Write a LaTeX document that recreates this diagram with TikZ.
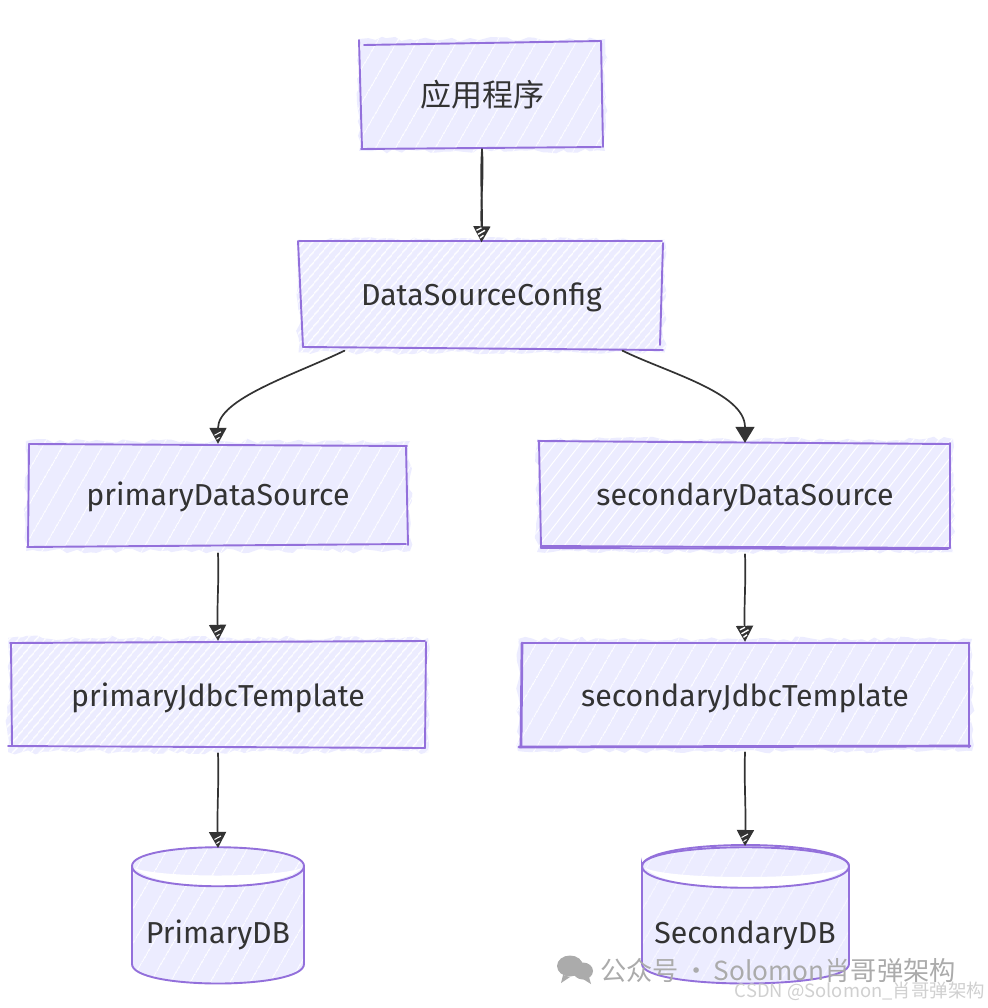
\documentclass[tikz,border=0pt]{standalone}
\usepackage{fontspec}
\setmainfont{Fira Sans}
\newfontfamily\cjk{Noto Sans CJK SC}
\usetikzlibrary{arrows.meta,patterns.meta,decorations.pathmorphing,calc}
\definecolor{edgep}{HTML}{9370DB}
\definecolor{fillp}{HTML}{ECECFF}
\definecolor{ink}{HTML}{333333}
\definecolor{wmark}{HTML}{ABABAB}
\definecolor{wmarkb}{HTML}{D0D0D0}
\tikzset{
  x=1pt,y=-1pt,
  sketch/.style={edgep,line width=1.9pt,line cap=round},
  sketchb/.style={edgep,line width=2.7pt,line cap=round},
  boxbase/.style={inner sep=0pt,font=\fontsize{30.3}{32}\selectfont,text=ink,anchor=center,text depth=0pt},
  fuzz/.style={fill=fillp,decorate,decoration={random steps,segment length=7pt,amplitude=2.4pt}},
  sparse/.style={boxbase,fuzz,postaction={pattern={Lines[angle=60,distance=17pt,line width=.7pt]},pattern color=white}},
  dense/.style={boxbase,fuzz,postaction={pattern={Lines[angle=50,distance=6.5pt,line width=1.3pt]},pattern color=white}},
  mid/.style={boxbase,fuzz,postaction={pattern={Lines[angle=52,distance=10pt,line width=1pt]},pattern color=white}},
  wire/.style={ink,line width=1.7pt,line cap=round},
  tipa/.style={-{Triangle[width=17pt,length=16pt,fill=ink]}},
  tipb/.style={-{Triangle[width=19pt,length=16pt,fill=ink]}},
  dbtext/.style={inner sep=0pt,font=\fontsize{30.3}{32}\selectfont,text=ink,text depth=0pt},
  wm/.style={inner sep=0pt,text=wmark,font=\fontsize{26.2}{28}\selectfont},
  wm2/.style={inner sep=0pt,text=wmarkb,font=\fontsize{18.4}{20}\selectfont},
  dbfill/.style={fill=fillp,postaction={pattern={Lines[angle=60,distance=17pt,line width=.7pt]},pattern color=white}},
  stripes/.pic={\draw[white,line width=1pt] (-1.5,-4.5)--(1.5,-6.5) (-3.5,-8.5)--(3,-12);},
  stripesb/.pic={\draw[white,line width=1.4pt] (-1.5,-4.5)--(2,-7) (-3.5,-8)--(3.5,-12) (-5,-12)--(0,-14.5);},
}
\begin{document}
\begin{tikzpicture}
\useasboundingbox (0,0) rectangle (987,1008);
\fill[white] (0,0) rectangle (987,1008);
% boxes
\node[sparse,minimum width=246pt,minimum height=112pt] (app) at (482,95) {};
\node[dense,minimum width=366pt,minimum height=113pt] (dsc) at (481.5,296) {};
\node[sparse,minimum width=384pt,minimum height=110pt] (pds) at (218,496) {};
\node[mid,minimum width=416pt,minimum height=113pt] (sds) at (745,495.5) {};
\node[dense,minimum width=420pt,minimum height=114pt] (pjt) at (218,695) {};
\node[sparse,minimum width=454pt,minimum height=112pt] (sjt) at (745,695) {};
\node[boxbase] (appt) at (482,93) {\fontsize{31}{32}\selectfont\cjk 应用程序};
\node[boxbase,anchor=base] (dsct) at (481.5,305) {DataSourceConfig};
\node[boxbase,anchor=base] (pdst) at (218,505) {primaryDataSource};
\node[boxbase,anchor=base] (sdst) at (745,505) {secondaryDataSource};
\node[boxbase,anchor=base] (pjtt) at (218,706) {primaryJdbcTemplate};
\node[boxbase,anchor=base] (sjtt) at (745,706) {secondaryJdbcTemplate};
% outlines
\draw[sketch] (359,40)--(362,149);
\draw[sketch] (364,45)--(601,41);
\draw[sketch] (601,41)--(603,147);
\draw[sketch] (361,149)--(601,147);
\draw[sketch] (299,241)--(662,241);
\draw[sketch] (298,241)--(303,347);
\draw[sketch] (663,243)--(660,345);
\draw[sketch] (303,347)--(663,350);
\draw[sketch] (29,444)--(407,446);
\draw[sketch] (29,444)--(28,547);
\draw[sketch] (406,446)--(408,545);
\draw[sketch] (27,547)--(406,544);
\draw[sketch] (538,441)--(950,444);
\draw[sketch] (539,441)--(541,548);
\draw[sketch] (950,443)--(950,548);
\draw[sketch] (541,546)--(950,548);
\draw[sketch] (541,548)--(948,549);
\draw[sketch] (10,643)--(425,641);
\draw[sketch] (11,643)--(12,746);
\draw[sketch] (426,642)--(425,748);
\draw[sketch] (8,746)--(425,748);
\draw[sketchb] (523,643)--(969,643);
\draw[sketchb] (522,643)--(521,747);
\draw[sketchb] (969,643)--(969,747);
\draw[sketchb] (519,747)--(970,746);
% primary DB
\path[dbfill]
  (132,866) .. controls (132,841) and (304,841) .. (304,866) -- (304,964)
  .. controls (304,990) and (132,990) .. (132,964) -- cycle;
\fill[white] (134,868) .. controls (160,892) and (276,892) .. (302,868) .. controls (276,878) and (160,878) .. (134,868) -- cycle;
\draw[sketch] (132,866) .. controls (132,841) and (304,841) .. (304,866) .. controls (304,893) and (132,893) .. (132,866) -- (132,964)
  .. controls (132,990) and (304,990) .. (304,964) -- (304,866);
\node[dbtext,anchor=base] (pdb) at (218,943) {PrimaryDB};
\coordinate (pdbtop) at (218,848);
% secondary DB
\path[dbfill]
  (642,866) .. controls (642,840) and (849,840) .. (849,866) -- (849,964)
  .. controls (849,990) and (642,990) .. (642,964) -- cycle;
\fill[white] (645,868) .. controls (670,895) and (820,895) .. (846,868) .. controls (820,880) and (670,880) .. (645,868) -- cycle;
\draw[sketch] (642,866) .. controls (642,841) and (849,841) .. (849,866) .. controls (849,895) and (642,895) .. (642,866) -- (642,964)
  .. controls (642,990) and (849,990) .. (849,964) -- (849,866);
\draw[sketch] (642,866) .. controls (645,838) and (846,838) .. (849,866);
\node[dbtext,anchor=base] (sdb) at (745,943) {SecondaryDB};
\coordinate (sdbtop) at (745,846);
\coordinate (dsctop) at ([yshift=-3pt]dsc.north);
\coordinate (pdstop) at ([yshift=-3pt]pds.north);
\coordinate (sdstop) at ([yshift=-4pt]sds.north);
\coordinate (pjttop) at ([yshift=-3pt]pjt.north);
\coordinate (sjttop) at ([yshift=-3pt]sjt.north);
% connectors
\draw[wire,tipa] ([yshift=2pt]app.south) .. controls +(-2,30) and +(1,-40) .. (dsctop);
\draw[wire] ([yshift=2pt]app.south) .. controls +(2,30) and +(-1,-40) .. ([yshift=12pt]dsctop);
\draw[wire,tipa] ([xshift=-137pt,yshift=2pt]dsc.south) .. controls +(-50,24) and +(0,-45) .. (pdstop);
\draw[wire,tipb] ([xshift=141pt,yshift=2pt]dsc.south) .. controls +(45,22) and +(0,-50) .. (sdstop);
\draw[wire,tipa] ([yshift=-2pt]pds.south) .. controls +(1,30) and +(-1,-40) .. (pjttop);
\draw[wire,tipa] ([yshift=-2pt]sds.south) .. controls +(1,30) and +(-1,-40) .. (sjttop);
\draw[wire,tipa] ([yshift=-1pt]pjt.south) .. controls +(1,30) and +(-1,-40) .. (pdbtop);
\draw[wire,tipa] ([yshift=-1pt]sjt.south) .. controls +(-1,30) and +(1,-40) .. (sdbtop);
\pic at (dsctop) {stripesb};
\pic at (pdstop) {stripes};
\pic at (pjttop) {stripes};
\pic at (sjttop) {stripesb};
\pic at (pdbtop) {stripes};
\pic at (sdbtop) {stripes};
% watermarks
\fill[wmark] (570,966) ellipse (13 and 10.5);
\fill[wmark] (583,971) ellipse (10 and 8.5);
\fill[wmark] (563,975)--(561,983)--(570,977)--cycle;
\fill[wmark] (589,977)--(591,984)--(583,979)--cycle;
\node[wm,anchor=west] (wmtext) at (600,970) {\cjk 公众号\,·\,Solomon肖哥弹架构};
\node[wm2,anchor=east] (csdn) at (985,991) {\cjk CSDN @Solomon\_肖哥弹架构};
\end{tikzpicture}
\end{document}
